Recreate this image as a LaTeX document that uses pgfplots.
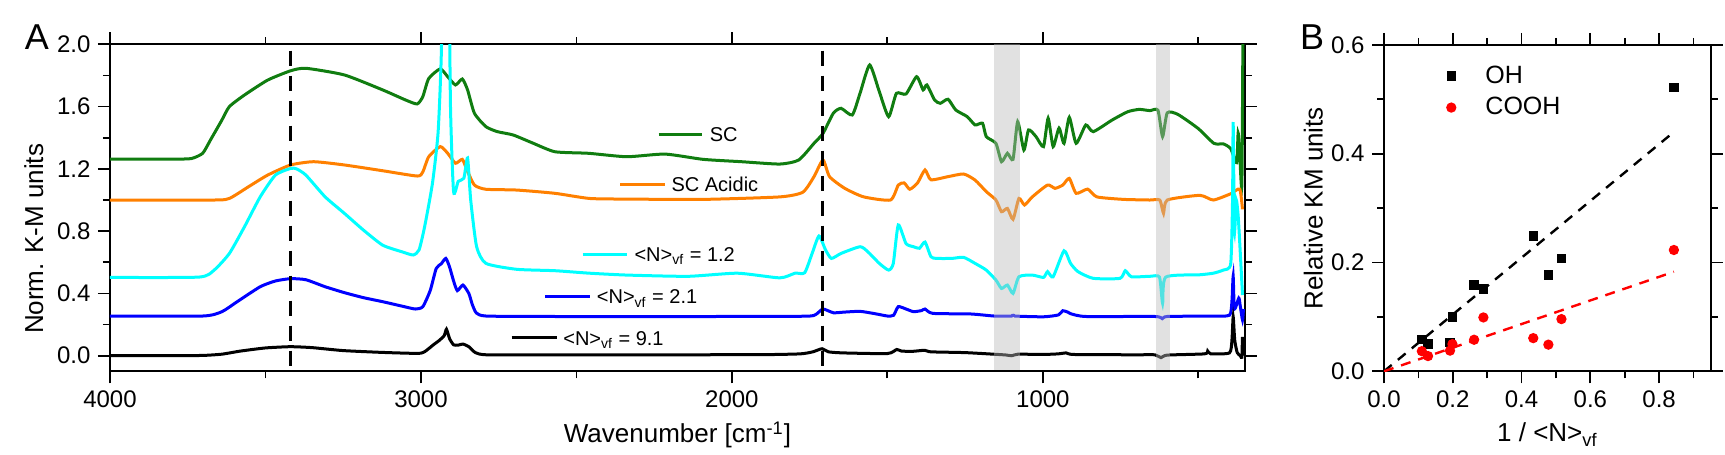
\documentclass[border=0pt]{standalone}
\usepackage{fontspec}
\setmainfont{Liberation Sans}
\usepackage{pgfplots}
\pgfplotsset{compat=1.18}

\definecolor{cgreen}{RGB}{16,125,16}
\definecolor{corange}{RGB}{255,128,0}
\definecolor{ccyan}{RGB}{0,255,255}
\definecolor{cblue}{RGB}{0,0,255}
\definecolor{cband}{RGB}{186,186,186}
\newcommand{\legfont}{\fontsize{10}{12}\selectfont}

\pgfplotsset{
 myaxis/.style={scale only axis, tick align=outside,
   major tick length=6pt, minor tick length=3.5pt,
   every axis/.append style={line width=0.9pt},
   tick style={line width=0.9pt, black},
   tick label style={font=\fontsize{12}{14}\selectfont},
   label style={font=\fontsize{13}{15}\selectfont},
   /pgf/number format/assume math mode=true,
   /pgf/number format/1000 sep={}},
 spec/.style={line width=1.5pt, smooth, tension=0.35, forget plot},
}

\begin{document}
\begin{tikzpicture}
\useasboundingbox (-55pt,-41.85pt) rectangle (807.5pt,185.65pt);

% ---------------- Panel A ----------------
\begin{axis}[myaxis, at={(0pt,0pt)}, anchor=south west,
  width=567.5pt, height=163.5pt,
  xmin=350, xmax=4000, x dir=reverse, ymin=-0.1, ymax=2.0,
  xtick={1000,2000,3000,4000}, minor xtick={500,1500,2500,3500},
  ytick={0,0.4,0.8,1.2,1.6,2.0}, minor ytick={0.2,0.6,1.0,1.4,1.8},
  yticklabel style={/pgf/number format/.cd,fixed,fixed zerofill,precision=1},
  xlabel={Wavenumber [cm\textsuperscript{-1}]},
  ylabel={Norm. K-M units},
  xlabel style={at={(axis description cs:0.5,0)}, anchor=base, yshift=-35.8pt},
  ylabel style={at={(axis description cs:-0.067,0.405)}, anchor=center},
]
% SC (green)
\addplot[spec, cgreen] coordinates {
(4000,1.263) (3800,1.263) (3739,1.266) (3702,1.30) (3677,1.385) (3640,1.514) (3616,1.60) (3567,1.675) (3493,1.77) (3419,1.83) (3370,1.846) (3246,1.803) (3123,1.707) (3049,1.642) (3012,1.617) (2994,1.664) (2975,1.78) (2938,1.842) (2914,1.792) (2889,1.739) (2867,1.777) (2850,1.707) (2828,1.557) (2791,1.471) (2754,1.439) (2704,1.418) (2643,1.368) (2569,1.31) (2461,1.30) (2338,1.278) (2215,1.295) (2092,1.261) (1969,1.246) (1846,1.231) (1785,1.257) (1736,1.364) (1707,1.428) (1674,1.557) (1649,1.589) (1613,1.546) (1588,1.685) (1557,1.867) (1526,1.696) (1496,1.535) (1471,1.685) (1440,1.681) (1406,1.792) (1385,1.707) (1373,1.739) (1348,1.642) (1330,1.621) (1305,1.647) (1280,1.578) (1243,1.535) (1218,1.482) (1194,1.493) (1182,1.407) (1151,1.364) (1133,1.246) (1114,1.30) (1096,1.261) (1081,1.503) (1061,1.321) (1046,1.45) (1022,1.407) (998,1.343) (983,1.525) (967,1.343) (948,1.462) (932,1.364) (915,1.531) (893,1.364) (862,1.482) (838,1.439) (777,1.514) (727,1.567) (690,1.582) (656,1.574) (630,1.577) (615,1.407) (600,1.56) (566,1.55) (501,1.46) (450,1.364) (419,1.36) (396,1.33) (377,1.24) (372,1.43) (367,1.30) (360,1.1) (356,2.3)};
% SC Acidic (orange)
\addplot[spec, corange] coordinates {
(4000,1.0) (3665,1.0) (3616,1.01) (3554,1.086) (3493,1.16) (3419,1.225) (3345,1.246) (3246,1.225) (3123,1.188) (3012,1.154) (2994,1.18) (2975,1.278) (2938,1.343) (2914,1.30) (2889,1.236) (2867,1.261) (2852,1.193) (2828,1.096) (2791,1.069) (2692,1.064) (2569,1.043) (2458,1.01) (2338,1.006) (2092,1.004) (1846,1.02) (1772,1.05) (1736,1.15) (1707,1.257) (1686,1.15) (1637,1.075) (1576,1.02) (1490,1.0) (1465,1.096) (1446,1.11) (1428,1.069) (1403,1.11) (1379,1.193) (1360,1.13) (1305,1.15) (1255,1.167) (1218,1.128) (1182,1.054) (1151,1.0) (1133,0.925) (1114,0.946) (1096,0.876) (1077,1.01) (1059,0.968) (1034,1.02) (985,1.096) (961,1.075) (936,1.096) (915,1.139) (893,1.043) (856,1.07) (826,1.02) (740,1.004) (656,1.0) (624,1.0) (612,0.915) (600,1.0) (495,1.03) (452,1.0) (396,1.04) (367,1.07) (358,0.94)};
% <N>vf = 1.2 (cyan)
\addplot[spec, ccyan] coordinates {
(4000,0.503) (3714,0.505) (3665,0.55) (3616,0.657) (3567,0.83) (3517,1.02) (3468,1.16) (3419,1.203) (3400,1.2) (3370,1.16) (3308,1.02) (3246,0.914) (3185,0.807) (3123,0.71) (3062,0.668) (3025,0.647) (3006,0.68) (2988,0.83) (2963,1.107) (2945,1.43) (2935,1.9) (2925,2.8) (2912,2.8) (2905,1.6) (2895,1.053) (2880,1.12) (2862,1.14) (2850,1.27) (2840,1.0) (2821,0.70) (2791,0.593) (2692,0.555) (2569,0.546) (2458,0.53) (2338,0.518) (2141,0.51) (1982,0.53) (1846,0.50) (1797,0.53) (1766,0.533) (1742,0.657) (1720,0.769) (1699,0.68) (1680,0.625) (1649,0.657) (1588,0.70) (1563,0.668) (1526,0.593) (1496,0.55) (1481,0.593) (1465,0.84) (1440,0.72) (1416,0.70) (1397,0.69) (1379,0.73) (1360,0.636) (1342,0.625) (1292,0.625) (1255,0.632) (1218,0.593) (1182,0.55) (1151,0.486) (1133,0.432) (1114,0.454) (1096,0.40) (1077,0.507) (1034,0.518) (998,0.503) (985,0.54) (967,0.507) (932,0.674) (911,0.593) (887,0.54) (838,0.497) (752,0.497) (735,0.546) (715,0.507) (656,0.51) (625,0.505) (615,0.336) (605,0.505) (495,0.52) (452,0.53) (420,0.55) (396,0.59) (390,1.0) (388,1.5) (384,0.8) (378,1.0) (372,0.9) (367,0.73) (358,0.39)};
% <N>vf = 2.1 (blue)
\addplot[spec, cblue] coordinates {
(4000,0.255) (3702,0.255) (3640,0.283) (3591,0.347) (3517,0.443) (3468,0.48) (3419,0.495) (3370,0.488) (3308,0.443) (3246,0.405) (3185,0.373) (3123,0.347) (3062,0.319) (3018,0.30) (2994,0.315) (2970,0.42) (2951,0.56) (2935,0.59) (2920,0.625) (2908,0.57) (2895,0.48) (2883,0.418) (2865,0.454) (2846,0.40) (2835,0.33) (2822,0.275) (2791,0.255) (2600,0.252) (2000,0.252) (1760,0.254) (1730,0.265) (1707,0.30) (1674,0.276) (1640,0.28) (1588,0.285) (1540,0.27) (1500,0.255) (1480,0.26) (1465,0.315) (1440,0.30) (1416,0.283) (1390,0.29) (1379,0.30) (1354,0.272) (1231,0.268) (1157,0.255) (1100,0.255) (1096,0.268) (1090,0.255) (998,0.25) (950,0.262) (936,0.289) (920,0.28) (911,0.27) (862,0.252) (640,0.252) (616,0.238) (600,0.252) (460,0.255) (400,0.26) (392,0.35) (388,0.51) (384,0.3) (370,0.37) (366,0.33) (358,0.23) (355,0.3)};
% <N>vf = 9.1 (black)
\addplot[spec, black] coordinates {
(4000,0) (3800,0) (3700,0.002) (3640,0.01) (3580,0.03) (3500,0.05) (3420,0.058) (3350,0.052) (3250,0.033) (3120,0.021) (3010,0.015) (2988,0.026) (2960,0.07) (2940,0.1) (2925,0.13) (2918,0.17) (2908,0.11) (2895,0.07) (2880,0.068) (2865,0.075) (2846,0.058) (2825,0.02) (2790,0.006) (2600,0.005) (2200,0.006) (1900,0.007) (1780,0.012) (1740,0.025) (1710,0.045) (1690,0.025) (1640,0.018) (1500,0.014) (1470,0.04) (1455,0.03) (1420,0.028) (1380,0.035) (1360,0.025) (1250,0.02) (1160,0.01) (1120,0.005) (1100,0.0) (1080,0.01) (1000,0.008) (950,0.012) (925,0.018) (900,0.008) (700,0.006) (640,0.006) (620,-0.012) (600,0.004) (480,0.012) (470,0.03) (460,0.012) (400,0.018) (392,0.1) (388,0.25) (383,0.1) (375,0.02) (365,0.0) (360,-0.01) (358,0.12) (355,0.0)};
% shaded bands
\addplot[fill=cband, fill opacity=0.43, draw=none, forget plot] coordinates {(1157,-0.09) (1074,-0.09) (1074,2.0) (1157,2.0)};
\addplot[fill=cband, fill opacity=0.43, draw=none, forget plot] coordinates {(637,-0.09) (592,-0.09) (592,2.0) (637,2.0)};
% dashed markers
\addplot[black, line width=1.3pt, dash pattern=on 7.5pt off 5pt, forget plot] coordinates {(3420,1.96) (3420,-0.1)};
\addplot[black, line width=1.3pt, dash pattern=on 7.5pt off 5pt, forget plot] coordinates {(1708,1.96) (1708,-0.1)};
% legend lines
\addplot[cgreen, line width=1.5pt, forget plot] coordinates {(2236,1.422) (2095,1.422)};
\addplot[corange, line width=1.5pt, forget plot] coordinates {(2359,1.10) (2215,1.10)};
\addplot[ccyan, line width=1.5pt, forget plot] coordinates {(2480,0.651) (2338,0.651)};
\addplot[cblue, line width=1.5pt, forget plot] coordinates {(2600,0.379) (2455,0.379)};
\addplot[black, line width=1.5pt, forget plot] coordinates {(2708,0.114) (2564,0.114)};
\node[anchor=base west, inner sep=0pt, yshift=-3.6pt, font=\legfont] at (axis cs:2074,1.422) {SC};
\node[anchor=base west, inner sep=0pt, yshift=-3.6pt, font=\legfont] at (axis cs:2197,1.10) {SC Acidic};
\node[anchor=base west, inner sep=0pt, yshift=-3.6pt, font=\legfont] at (axis cs:2316,0.651) {<N>\textsubscript{vf} = 1.2};
\node[anchor=base west, inner sep=0pt, yshift=-3.6pt, font=\legfont] at (axis cs:2437,0.379) {<N>\textsubscript{vf} = 2.1};
\node[anchor=base west, inner sep=0pt, yshift=-3.6pt, font=\legfont] at (axis cs:2545,0.114) {<N>\textsubscript{vf} = 9.1};
\end{axis}

% ---------------- Panel B ----------------
\begin{axis}[myaxis, at={(637pt,0pt)}, anchor=south west,
  width=163.35pt, height=163.2pt,
  xmin=0, xmax=0.95, ymin=0, ymax=0.6,
  xtick={0,0.2,0.4,0.6,0.8}, minor xtick={0.1,0.3,0.5,0.7,0.9},
  ytick={0,0.2,0.4,0.6}, minor ytick={0.1,0.3,0.5},
  xticklabel style={/pgf/number format/.cd,fixed,fixed zerofill,precision=1},
  yticklabel style={/pgf/number format/.cd,fixed,fixed zerofill,precision=1},
  xlabel={1 / <N>\textsubscript{vf}},
  ylabel={Relative KM units},
  xlabel style={at={(axis description cs:0.5,0)}, anchor=base, yshift=-35.2pt},
  ylabel style={at={(axis description cs:-0.216,0.5)}, anchor=center},
  legend style={draw=none, fill=none, at={(axis description cs:0.172,0.963)}, anchor=north west,
    font=\fontsize{12.5}{14}\selectfont, column sep=13pt, row sep=1.5pt},
  legend cell align=left,
]
\addplot[only marks, mark=square*, mark size=1.9pt, black] coordinates {
(0.110,0.058) (0.128,0.050) (0.192,0.053) (0.199,0.100) (0.262,0.159) (0.289,0.151) (0.434,0.249) (0.478,0.177) (0.516,0.207) (0.843,0.522)};
\addlegendentry{OH}
\addplot[only marks, mark=*, mark size=2.1pt, red] coordinates {
(0.110,0.037) (0.128,0.028) (0.192,0.038) (0.199,0.050) (0.262,0.058) (0.289,0.099) (0.434,0.061) (0.478,0.049) (0.516,0.096) (0.843,0.223)};
\addlegendentry{COOH}
\addplot[black, line width=1.2pt, dash pattern=on 5pt off 4pt, forget plot] coordinates {(0,0) (0.843,0.440)};
\addplot[red, line width=1.2pt, dash pattern=on 5pt off 4pt, forget plot] coordinates {(0,0) (0.843,0.183)};
\end{axis}

\node[font=\fontsize{18}{20}\selectfont, inner sep=0pt] at (-36.5pt,167.15pt) {A};
\node[font=\fontsize{18}{20}\selectfont, inner sep=0pt] at (601pt,167.3pt) {B};
\end{tikzpicture}
\end{document}
